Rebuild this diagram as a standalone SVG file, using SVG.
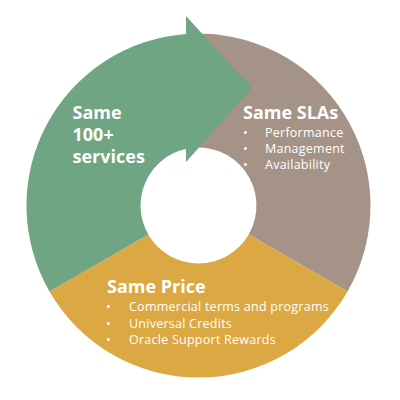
<svg xmlns="http://www.w3.org/2000/svg" width="400" height="400" viewBox="0 0 400 400">
<style>
.h{font-family:"Open Sans","Noto Sans",sans-serif;font-weight:700;font-size:18px;fill:#fff}
.b{font-family:"Open Sans","Noto Sans",sans-serif;font-weight:400;font-size:12.5px;letter-spacing:0.25px;fill:#fff}
</style>
<rect width="400" height="400" fill="#fff"/>
<g id="sla">
<path d="M186,34 A172,172 0 0 1 347.5,291.5 L248.7,234.5 A58,58 0 0 0 186,148.9 Z" fill="#a59387"/>
<text class="h" x="243" y="119">Same SLAs</text>
<text class="b"><tspan x="243" y="136.5">•</tspan><tspan x="265" y="136.5">Performance</tspan><tspan x="243" y="152.5">•</tspan><tspan x="265" y="152.5">Management</tspan><tspan x="243" y="168.5">•</tspan><tspan x="265" y="168.5">Availability</tspan></text>
</g>
<g id="price">
<path d="M347.5,291.5 A172,172 0 0 1 49.5,291.5 L148.3,234.5 A58,58 0 0 0 248.7,234.5 Z" fill="#dca843"/>
<text class="h" x="107" y="292.5">Same Price</text>
<text class="b"><tspan x="106" y="311">•</tspan><tspan x="129" y="311">Commercial terms and programs</tspan><tspan x="106" y="327.5">•</tspan><tspan x="129" y="327.5">Universal Credits</tspan><tspan x="106" y="344">•</tspan><tspan x="129" y="344">Oracle Support Rewards</tspan></text>
</g>
<g id="services">
<path d="M49.5,291.5 A172,172 0 0 1 186,34 L186,16 L252,88 L186,162 L186,148.9 A58,58 0 0 0 148.3,234.5 Z" fill="#6fa582"/>
<text class="h"><tspan x="72.5" y="118.5">Same</tspan><tspan x="72.5" y="140.5">100+</tspan><tspan x="72.5" y="162.5">services</tspan></text>
</g>
<g id="connectors"/>
</svg>
